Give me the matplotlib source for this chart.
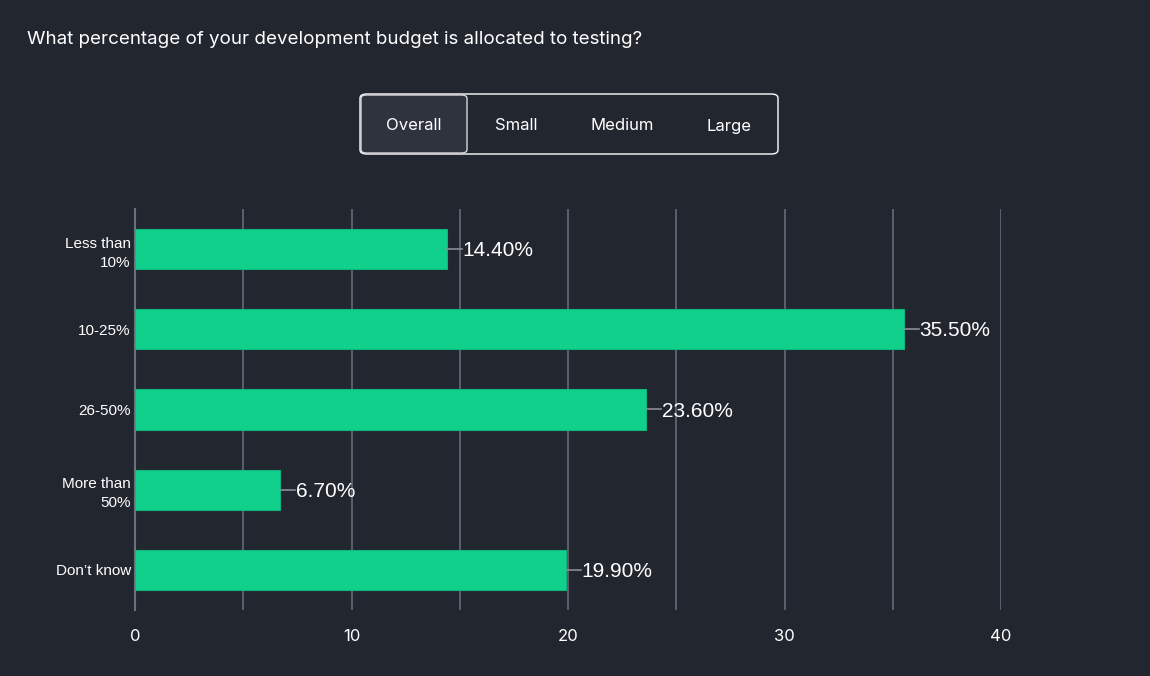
import matplotlib.pyplot as plt
from matplotlib.patches import FancyBboxPatch

plt.rcParams['font.family'] = ['Inter', 'DejaVu Sans']

categories = ['Less than\n10%', '10-25%', '26-50%', 'More than\n50%', 'Don\u2019t know']
values = [14.4, 35.5, 23.6, 6.7, 19.9]
tabs = ['Overall', 'Small', 'Medium', 'Large']
xticks = [0, 10, 20, 30, 40]

bg = '#22262f'
green = '#11d08c'
grid = '#6b7080'
arial = ['Liberation Sans', 'DejaVu Sans']

W, H = 1150, 676
fig = plt.figure(figsize=(W / 100, H / 100), dpi=100, facecolor=bg)

fig.text(27 / W, 1 - 39 / H, 'What percentage of your development budget is allocated to testing?',
         color='white', fontsize=13.5, va='center', ha='left')

# toggle buttons
outer = FancyBboxPatch((360 / W, 1 - 154 / H), 418 / W, 60 / H,
                       boxstyle='round,pad=0,rounding_size=0.006', transform=fig.transFigure,
                       facecolor=bg, edgecolor='white', linewidth=1)
fig.patches.append(outer)
sel = FancyBboxPatch((361 / W, 1 - 153 / H), 106 / W, 58 / H,
                     boxstyle='round,pad=0,rounding_size=0.005', transform=fig.transFigure,
                     facecolor='#2f333e', edgecolor='#d8d8dc', linewidth=1)
fig.patches.append(sel)
for t, cx in zip(tabs, [414, 516, 622, 729]):
    fig.text(cx / W, 1 - 126 / H, t, color='white', fontsize=12, ha='center', va='center')

ax = fig.add_axes([135 / W, 1 - 610 / H, (1001 - 135) / W, (610 - 209) / H])
ax.set_facecolor(bg)
y = list(range(len(categories)))
ax.barh(y, values, height=0.5, color=green, edgecolor='#0fb57a', linewidth=0.8, zorder=3)
ax.set_xlim(0, 40)
ax.set_ylim(len(categories) - 0.5, -0.5)
ax.set_xticks([0, 5, 10, 15, 20, 25, 30, 35, 40])
ax.set_xticklabels(['0', '', '10', '', '20', '', '30', '', '40'])
ax.set_yticks(y)
ax.set_yticklabels(categories, fontsize=11, color='white', family=arial, linespacing=1.45)
ax.grid(axis='x', color=grid, linewidth=1.1, zorder=0)
ax.tick_params(axis='x', length=0, colors='white', labelsize=12, pad=14)
ax.tick_params(axis='y', length=0, colors='white', pad=3)
for lab in ax.get_yticklabels():
    lab.set_multialignment('right')
for s in ['top', 'right', 'bottom']:
    ax.spines[s].set_visible(False)
ax.spines['left'].set_color(grid)
ax.spines['left'].set_linewidth(1.5)

for yi, v in zip(y, values):
    ax.plot([v, v + 0.7], [yi, yi], color='#8a8d96', linewidth=1.2, zorder=4)
    ax.text(v + 0.72, yi + 0.02, f'{v:.2f}%', color='white', fontsize=15, family=arial,
            va='center', ha='left', zorder=5)

fig.savefig('out.png', dpi=100, facecolor=bg)
